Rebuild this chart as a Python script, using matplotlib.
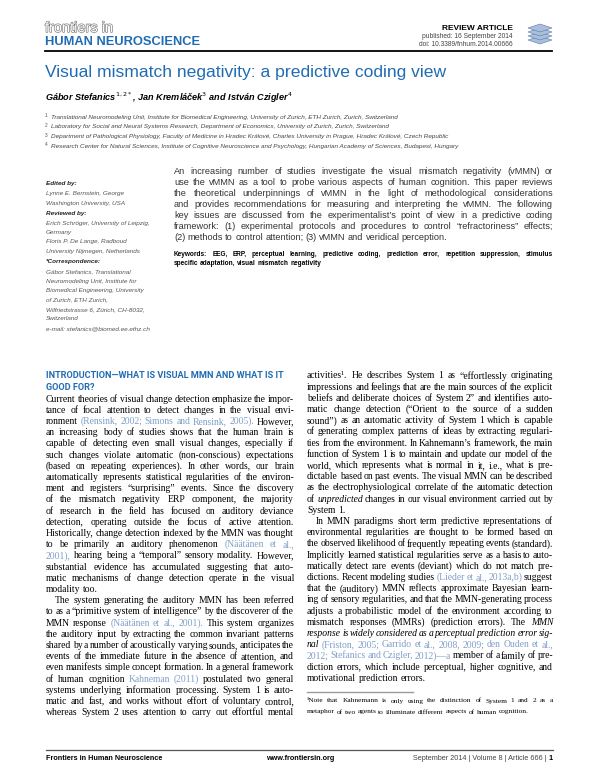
import matplotlib.pyplot as plt
import matplotlib.patheffects as pe
from matplotlib.patches import Polygon

# page text, line by line as set in the reference
affiliations = [
    "Translational Neuromodeling Unit, Institute for Biomedical Engineering, University of Zurich, ETH Zurich, Zurich, Switzerland",
    "Laboratory for Social and Neural Systems Research, Department of Economics, University of Zurich, Zurich, Switzerland",
    "Department of Pathological Physiology, Faculty of Medicine in Hradec Králové, Charles University in Prague, Hradec Králové, Czech Republic",
    "Research Center for Natural Sciences, Institute of Cognitive Neuroscience and Psychology, Hungarian Academy of Sciences, Budapest, Hungary",
]

sidebar = [
    ("Edited by:", True), ("Lynne E. Bernstein, George", False), ("Washington University, USA", False),
    ("Reviewed by:", True), ("Erich Schröger, University of Leipzig,", False), ("Germany", False),
    ("Floris P. De Lange, Radboud", False), ("University Nijmegen, Netherlands", False),
    ("*Correspondence:", True), ("Gábor Stefanics, Translational", False),
    ("Neuromodeling Unit, Institute for", False), ("Biomedical Engineering, University", False),
    ("of Zurich, ETH Zurich,", False), ("Wilfriedstrasse 6, Zürich, CH-8032,", False),
    ("Switzerland", False), ("e-mail: stefanics@biomed.ee.ethz.ch", False),
]

abstract = [
    "An increasing number of studies investigate the visual mismatch negativity (vMMN) or",
    "use the vMMN as a tool to probe various aspects of human cognition. This paper reviews",
    "the theoretical underpinnings of vMMN in the light of methodological considerations",
    "and provides recommendations for measuring and interpreting the vMMN. The following",
    "key issues are discussed from the experimentalist’s point of view in a predictive coding",
    "framework: (1) experimental protocols and procedures to control “refractoriness” effects;",
    "(2) methods to control attention; (3) vMMN and veridical perception.",
]

keywords = [
    "Keywords: EEG, ERP, perceptual learning, predictive coding, prediction error, repetition suppression, stimulus",
    "specific adaptation, visual mismatch negativity",
]

left_col = [
    "Current theories of visual change detection emphasize the impor-",
    "tance of focal attention to detect changes in the visual envi-",
    "ronment ([Rensink, 2002; Simons and Rensink, 2005]). However,",
    "an increasing body of studies shows that the human brain is",
    "capable of detecting even small visual changes, especially if",
    "such changes violate automatic (non-conscious) expectations",
    "(based on repeating experiences). In other words, our brain",
    "automatically represents statistical regularities of the environ-",
    "ment and registers “surprising” events. Since the discovery",
    "of the mismatch negativity ERP component, the majority",
    "of research in the field has focused on auditory deviance",
    "detection, operating outside the focus of active attention.",
    "Historically, change detection indexed by the MMN was thought",
    "to be primarily an auditory phenomenon ([Näätänen et al.,]",
    "[2001]), hearing being a “temporal” sensory modality. However,",
    "substantial evidence has accumulated suggesting that auto-",
    "matic mechanisms of change detection operate in the visual",
    "modality too.",
    ">The system generating the auditory MMN has been referred",
    "to as a “primitive system of intelligence” by the discoverer of the",
    "MMN response ([Näätänen et al., 2001]). This system organizes",
    "the auditory input by extracting the common invariant patterns",
    "shared by a number of acoustically varying sounds, anticipates the",
    "events of the immediate future in the absence of attention, and",
    "even manifests simple concept formation. In a general framework",
    "of human cognition [Kahneman (2011)] postulated two general",
    "systems underlying information processing. System 1 is auto-",
    "matic and fast, and works without effort of voluntary control,",
    "whereas System 2 uses attention to carry out effortful mental",
]

right_col = [
    "activities¹. He describes System 1 as “effortlessly originating",
    "impressions and feelings that are the main sources of the explicit",
    "beliefs and deliberate choices of System 2” and identifies auto-",
    "matic change detection (“Orient to the source of a sudden",
    "sound”) as an automatic activity of System 1 which is capable",
    "of generating complex patterns of ideas by extracting regulari-",
    "ties from the environment. In Kahnemann’s framework, the main",
    "function of System 1 is to maintain and update our model of the",
    "world, which represents what is normal in it, i.e., what is pre-",
    "dictable based on past events. The visual MMN can be described",
    "as the electrophysiological correlate of the automatic detection",
    "of _unpredicted_ changes in our visual environment carried out by",
    "System 1.",
    ">In MMN paradigms short term predictive representations of",
    "environmental regularities are thought to be formed based on",
    "the observed likelihood of frequently repeating events (standard).",
    "Implicitly learned statistical regularities serve as a basis to auto-",
    "matically detect rare events (deviant) which do not match pre-",
    "dictions. Recent modeling studies [(Lieder et al., 2013a,b)] suggest",
    "that the (auditory) MMN reflects approximate Bayesian learn-",
    "ing of sensory regularities, and that the MMN-generating process",
    "adjusts a probabilistic model of the environment according to",
    "mismatch responses (MMRs) (prediction errors). The _MMN_",
    "_response is widely considered as a perceptual prediction error sig-_",
    "_nal_ ([Friston, 2005; Garrido et al., 2008, 2009; den Ouden et al.,]",
    "[2012; Stefanics and Czigler, 2012])—a member of a family of pre-",
    "diction errors, which include perceptual, higher cognitive, and",
    "motivational prediction errors.",
]

footnote = [
    "¹Note that Kahnemann is only using the distinction of System 1 and 2 as a",
    "metaphor of two agents to illuminate different aspects of human cognition.",
]

BLUE = "#1f6cb4"
CITE = "#7f9fc8"

fig = plt.figure(figsize=(5.95, 7.8), dpi=100)
ax = fig.add_axes([0, 0, 1, 1])
ax.set_xlim(0, 595)
ax.set_ylim(780, 0)
ax.axis("off")
renderer = fig.canvas.get_renderer()


def parse(line):
    words, cur, cite, ital, flag_c, flag_i = [], "", False, False, False, False
    for ch in line + " ":
        if ch == "[" or ch == "]":
            cite = not cite
            continue
        if ch == "_":
            ital = not ital
            continue
        if ch == " ":
            if cur:
                words.append((cur, flag_c, flag_i))
            cur, flag_c, flag_i = "", False, False
            continue
        cur += ch
        flag_c = flag_c or cite
        flag_i = flag_i or ital
    return words


def put_line(line, x0, y, width, size, family, justify, color="black",
             style="normal", weight="normal"):
    indent = 0
    if line.startswith(">"):
        line, indent = line[1:], 9
    toks = parse(line)
    texts = []
    for w, c, i in toks:
        t = ax.text(0, y, w, fontsize=size, family=family, va="center",
                    color=CITE if c else color,
                    style="italic" if i else style, weight=weight)
        texts.append(t)
    widths = [t.get_window_extent(renderer).width for t in texts]
    space = size * 100 / 72 * 0.25
    if justify and len(texts) > 1:
        space = (width - indent - sum(widths)) / (len(texts) - 1)
    x = x0 + indent
    for t, w in zip(texts, widths):
        t.set_x(x)
        x += w + space


def put_block(lines, x0, y0, dy, width, size, family, last_justified=False, **kw):
    for k, line in enumerate(lines):
        nxt = lines[k + 1] if k + 1 < len(lines) else None
        just = (nxt is not None and not nxt.startswith(">")) or (nxt is None and last_justified)
        put_line(line, x0, y0 + k * dy, width, size, family, just, **kw)


# header
ax.text(45, 28, "frontiers in", fontsize=10.5, family="Liberation Sans", color="white",
        va="center", path_effects=[pe.withStroke(linewidth=0.9, foreground="#777777")])
ax.text(45, 42, "HUMAN NEUROSCIENCE", fontsize=9.3, family="Liberation Sans",
        weight="bold", color=BLUE, va="center")
ax.text(513, 28, "REVIEW ARTICLE", fontsize=6, family="Liberation Sans", weight="bold",
        ha="right", va="center")
ax.text(513, 36, "published: 16 September 2014", fontsize=4.8, family="Liberation Sans",
        color="#444444", ha="right", va="center")
ax.text(513, 44, "doi: 10.3389/fnhum.2014.00666", fontsize=4.8, family="Liberation Sans",
        color="#444444", ha="right", va="center")
for k in range(4):
    yy = 40 - k * 4
    ax.add_patch(Polygon([[528, yy], [540, yy + 4], [552, yy], [540, yy - 4]],
                         closed=True, facecolor="#a9bfdc", edgecolor="#5a78a8", lw=0.4))
ax.plot([45, 552], [51, 51], color="black", lw=1.3)

ax.text(45, 72, "Visual mismatch negativity: a predictive coding view", fontsize=12.6,
        family="Liberation Sans", color=BLUE, va="center")
ax.text(45, 98, "Gábor Stefanics$^{1,2*}$, Jan Kremláček$^{3}$ and István Czigler$^{4}$",
        fontsize=6.6, family="Liberation Sans", weight="bold", style="italic", va="center")
for k, a in enumerate(affiliations):
    yy = 117 + k * 9.8
    ax.text(45, yy - 1.5, str(k + 1), fontsize=3.5, family="Liberation Sans", color="#555555", va="center")
    ax.text(51, yy, a, fontsize=4.6, family="Liberation Sans", style="italic",
            color="#444444", va="center")

# sidebar
y = 184
for k, (s, bold) in enumerate(sidebar):
    if bold and k > 0:
        y += 1
    ax.text(46, y, s, fontsize=4.6, family="Liberation Sans", style="italic",
            weight="bold" if bold else "normal", color="#222222" if bold else "#555555",
            va="center")
    y += 9.5

# abstract
put_block(abstract, 174, 171, 11.1, 379, 6.6, "Liberation Sans", color="#333333")
put_block(keywords, 174, 254, 9.5, 379, 4.7, "Liberation Sans", weight="bold")

# body columns
ax.text(46, 375, "INTRODUCTION—WHAT IS VISUAL MMN AND WHAT IS IT", fontsize=6.6,
        family="Roboto", weight="bold", color=BLUE, va="center")
ax.text(46, 387, "GOOD FOR?", fontsize=6.6, family="Roboto", weight="bold", color=BLUE, va="center")
put_block(left_col, 46, 399, 11.2, 248, 6.9, "Liberation Serif", last_justified=True)
put_block(right_col, 307, 376, 11.2, 246, 6.9, "Liberation Serif")

ax.plot([307, 413], [692, 692], color="#999999", lw=1)
put_block(footnote, 307, 701, 11, 246, 5.3, "Liberation Serif")

# footer
ax.plot([46, 553], [750, 750], color="#555555", lw=0.9)
ax.text(46, 758, "Frontiers in Human Neuroscience", fontsize=5.2, family="Liberation Sans",
        weight="bold", va="center")
ax.text(300, 758, "www.frontiersin.org", fontsize=5.2, family="Liberation Sans",
        weight="bold", ha="center", va="center")
ax.text(553, 758, "1", fontsize=5.2, family="Liberation Sans", weight="bold",
        ha="right", va="center")
ax.text(547, 758, "September 2014 | Volume 8 | Article 666 |", fontsize=5.2,
        family="Liberation Sans", color="#444444", ha="right", va="center")

fig.savefig("out.png", dpi=100)
